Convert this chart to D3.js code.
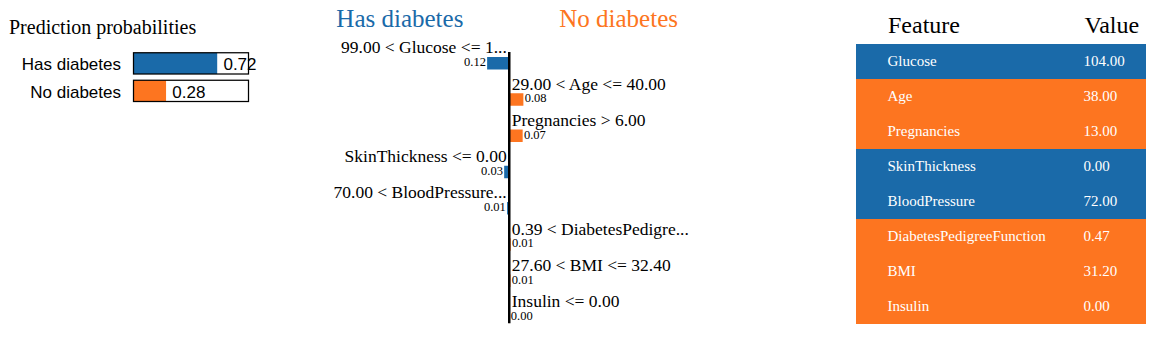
<!DOCTYPE html>
<html>
<head>
<meta charset="utf-8">
<script src="https://cdn.jsdelivr.net/npm/d3@7"></script>
<style>
  html, body { margin: 0; padding: 0; background: #fff; }
  svg { display: block; }
  .serif { font-family: "Liberation Serif", "Times New Roman", Times, "DejaVu Serif", serif; }
  .sans { font-family: "Liberation Sans", Arial, sans-serif; }
</style>
</head>
<body>
<svg id="chart" width="1155" height="340"></svg>
<script>
// ---- data ----
const classNames = ["Has diabetes", "No diabetes"];
const classProbs = [0.72, 0.28];
const ruleLabels = [
  "99.00 < Glucose <= 1...",
  "29.00 < Age <= 40.00",
  "Pregnancies > 6.00",
  "SkinThickness <= 0.00",
  "70.00 < BloodPressure...",
  "0.39 < DiabetesPedigre...",
  "27.60 < BMI <= 32.40",
  "Insulin <= 0.00"
];
const ruleWeights = [-0.122, 0.078, 0.074, -0.028, -0.012, 0.008, 0.007, 0.002];
const tableFeatures = ["Glucose", "Age", "Pregnancies", "SkinThickness", "BloodPressure",
  "DiabetesPedigreeFunction", "BMI", "Insulin"];
const tableValues = ["104.00", "38.00", "13.00", "0.00", "72.00", "0.47", "31.20", "0.00"];
const tableHeaders = ["Feature", "Value"];
const panelTitle = "Prediction probabilities";

const colors = ["#1a6aa9", "#fd7520"];
const svg = d3.select("#chart");

// ---- Left panel: prediction probabilities ----
const left = svg.append("g");
left.append("text").attr("class", "serif").attr("x", 9).attr("y", 34)
  .style("font-size", "20px").text(panelTitle);
const barX = 133.5;
const px = d3.scaleLinear().domain([0, 1]).range([0, 116.25]);
const py = d3.scaleBand().domain(classNames).range([52.75, 52.75 + 27.5 * 2]).paddingInner(0);
const probH = 21.25;
classNames.forEach((name, i) => {
  const y = py(name);
  left.append("rect").attr("x", barX).attr("y", y).attr("height", probH)
    .attr("width", px(classProbs[i])).style("fill", colors[i]);
  left.append("rect").attr("x", barX).attr("y", y).attr("height", probH)
    .attr("width", px(1) - 1.25).attr("fill-opacity", 0)
    .attr("stroke", "black").attr("stroke-width", 1.25);
  left.append("text").attr("class", "sans").attr("x", barX + px(classProbs[i]) + 6.25).attr("y", y + 17.5)
    .style("font-size", "17px").text(classProbs[i].toFixed(2));
  left.append("text").attr("class", "sans").attr("x", barX - 12.5).attr("y", y + 17.5).attr("text-anchor", "end")
    .style("font-size", "17px").text(name);
});

// ---- Middle panel: explanation bar chart ----
const mid = svg.append("g");
const xOff = 509.25;
const half = 218.75;
mid.append("text").attr("class", "serif").attr("x", xOff - half / 2).attr("y", 27).attr("text-anchor", "middle")
  .style("font-size", "25px").style("fill", colors[0]).text(classNames[0]);
mid.append("text").attr("class", "serif").attr("x", xOff + half / 2).attr("y", 27).attr("text-anchor", "middle")
  .style("font-size", "25px").style("fill", colors[1]).text(classNames[1]);

const wx = d3.scaleLinear().domain([0, 1]).range([0, 181.25]);
const wy = d3.scaleLinear().domain([0, ruleLabels.length]).range([33.25, 33.25 + 36.25 * ruleLabels.length]);
const textH = 20, gap = 3.75, barH = 12.5;
ruleLabels.forEach((lab, i) => {
  const w = ruleWeights[i];
  const right = w > 0;
  const size = wx(Math.abs(w));
  mid.append("text").attr("class", "serif").attr("x", right ? xOff + 2.5 : xOff - 2.5).attr("y", wy(i) + textH)
    .attr("text-anchor", right ? "start" : "end")
    .style("font-size", "17.5px").text(lab);
  mid.append("rect").attr("x", right ? xOff : xOff - size).attr("y", wy(i) + textH + gap)
    .attr("width", size).attr("height", barH).style("fill", right ? colors[1] : colors[0]);
  mid.append("text").attr("class", "serif").attr("x", right ? xOff + size + 1.25 : xOff - size - 1.25)
    .attr("y", wy(i) + textH + gap + barH / 2)
    .attr("dominant-baseline", "middle")
    .attr("text-anchor", right ? "start" : "end")
    .style("font-size", "12.5px").text(Math.abs(w).toFixed(2));
});
mid.append("line").attr("x1", xOff).attr("x2", xOff)
  .attr("y1", wy(0) + 18.75).attr("y2", wy(ruleLabels.length))
  .style("stroke", "black").style("stroke-width", 2.5);

// ---- Right panel: feature/value table ----
const tab = svg.append("g");
const tx0 = 856, tx1 = 1146;
const ty = d3.scaleBand().domain(tableFeatures).range([44, 324]);
tab.append("text").attr("class", "serif").attr("x", 888).attr("y", 33)
  .style("font-size", "24px").text(tableHeaders[0]);
tab.append("text").attr("class", "serif").attr("x", 1084.5).attr("y", 33)
  .style("font-size", "24px").text(tableHeaders[1]);
tableFeatures.forEach((f, i) => {
  const y = ty(f);
  tab.append("rect").attr("x", tx0).attr("y", y).attr("width", tx1 - tx0).attr("height", ty.bandwidth())
    .style("fill", ruleWeights[i] > 0 ? colors[1] : colors[0]);
  tab.append("text").attr("class", "serif").attr("x", 887.5).attr("y", y + 21.5)
    .style("font-size", "15px").style("fill", "white").text(f);
  tab.append("text").attr("class", "serif").attr("x", 1083.5).attr("y", y + 21.5)
    .style("font-size", "15px").style("fill", "white").text(tableValues[i]);
});
</script>
</body>
</html>
